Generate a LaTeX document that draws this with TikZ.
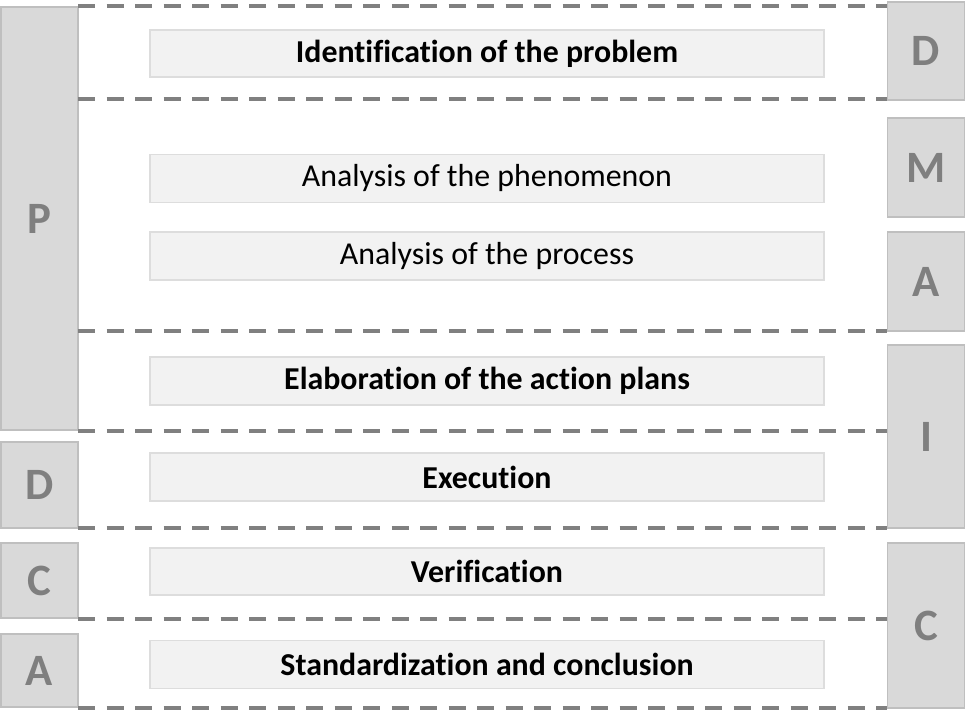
\documentclass[tikz,border=0pt]{standalone}
\usepackage{fontspec}
\setmainfont{Carlito}[Ligatures=NoCommon]
\definecolor{boxfill}{HTML}{D9D9D9}
\definecolor{boxline}{HTML}{BFBFBF}
\definecolor{letter}{HTML}{7F7F7F}
\definecolor{stepfill}{HTML}{F2F2F2}
\definecolor{stepline}{HTML}{DDDDDD}
\definecolor{dashcol}{HTML}{808080}
\begin{document}
\begin{tikzpicture}[x=1bp,y=-1bp,
  letterbox/.style={draw=boxline, fill=boxfill, line width=1.3bp, inner sep=0pt,
    text=letter, font=\fontsize{45}{48}\selectfont\bfseries, minimum width=77bp},
  stepbox/.style={draw=stepline, fill=stepfill, line width=1.3bp, inner sep=0pt,
    text=black, minimum width=674bp, minimum height=48bp, font=\fontsize{32}{36}\selectfont},
  boldstep/.style={stepbox, font=\fontsize{32}{36}\selectfont\bfseries},
  sep/.style={draw=dashcol, line width=3.8bp, dash pattern=on 17bp off 11.5bp}]
\useasboundingbox (0,0) rectangle (970,720);
% left column
\node[letterbox, minimum height=423bp] (P) at (39.5,218.5) {P};
\node[letterbox, minimum height=86bp] (Dl) at (39.5,485) {D};
\node[letterbox, minimum height=75bp] (Cl) at (39.5,580.5) {C};
\node[letterbox, minimum height=73bp] (Al) at (39.5,670.5) {A};
% right column
\node[letterbox, minimum height=98bp] (Dr) at (926,51) {D};
\node[letterbox, minimum height=99bp] (Mr) at (926,167.5) {M};
\node[letterbox, minimum height=99bp] (Ar) at (926,281.5) {A};
\node[letterbox, minimum height=183bp] (Ir) at (926,436.5) {I};
\node[letterbox, minimum height=165bp] (Cr) at (926,625.5) {C};
% steps
\node[boldstep, minimum height=47bp] (s1) at (487,53.5) {Identification of the problem};
\node[stepbox] (s2) at (487,178.5) {Analysis of the phenomenon};
\node[stepbox] (s3) at (487,256) {Analysis of the process};
\node[boldstep] (s4) at (487,381) {Elaboration of the action plans};
\node[boldstep] (s5) at (487,477) {Execution};
\node[boldstep, minimum height=47bp] (s6) at (487,571.5) {Verification};
\node[boldstep] (s7) at (487,664.5) {Standardization and conclusion};
% separators
\foreach \n/\y in {a/6,b/99,c/331,d/431,e/528,f/619,g/708}{
  \coordinate (L\n) at (78,\y);
  \coordinate (R\n) at (887,\y);
  \draw[sep] (L\n) -- (R\n);
}
\end{tikzpicture}
\end{document}
